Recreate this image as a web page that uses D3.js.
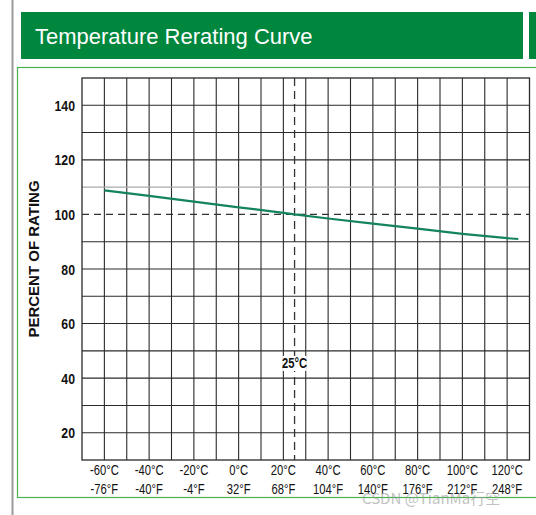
<!DOCTYPE html>
<html>
<head>
<meta charset="utf-8">
<script src="https://cdn.jsdelivr.net/npm/d3@7"></script>
<style>
  body { margin: 0; background: #fff; }
  svg { display: block; }
</style>
</head>
<body>
<script>
// curve readings, percent of rating vs ambient temperature (°C)
const tempsC = [-60, -40, -20, 0, 20, 25, 40, 60, 80, 100, 120, 125];
const percent = [108.8, 106.8, 104.7, 102.6, 100.6, 100, 98.5, 96.6, 94.8, 92.9, 91.3, 91];

const tickC = [-60, -40, -20, 0, 20, 40, 60, 80, 100, 120];
const tickF = ['-76°F', '-40°F', '-4°F', '32°F', '68°F', '104°F', '140°F', '176°F', '212°F', '248°F'];
const tickY = [20, 40, 60, 80, 100, 120, 140];

const svgWidth = 536, svgHeight = 515;
const sans = '"Liberation Sans", Arial, sans-serif';

const svg = d3.select('body').append('svg')
    .attr('width', svgWidth)
    .attr('height', svgHeight);

// no condensed face installed, so squeeze the labels sideways
function narrowText(g, px, py, sx, txt) {
    return g.append('text')
        .attr('transform', 'translate(' + px + ',' + py + ') scale(' + sx + ',1)')
        .attr('font-family', sans)
        .attr('fill', '#111')
        .text(txt);
}

// page frame bits
svg.append('line').attr('x1', 12.5).attr('x2', 12.5).attr('y1', 0).attr('y2', svgHeight)
    .attr('stroke', '#9a9a9a').attr('stroke-width', 2);
svg.append('rect').attr('x', 21).attr('y', 12).attr('width', 502).attr('height', 47).attr('fill', '#00873d');
svg.append('rect').attr('x', 529).attr('y', 12).attr('width', 20).attr('height', 47).attr('fill', '#00873d');
svg.append('rect').attr('x', 17.5).attr('y', 67.5).attr('width', 540).attr('height', 430)
    .attr('fill', 'none').attr('stroke', '#4cb050').attr('stroke-width', 1.2);

svg.append('text')
    .attr('x', 35).attr('y', 44)
    .attr('font-family', sans)
    .attr('font-size', '22px')
    .attr('fill', '#fff')
    .text('Temperature Rerating Curve');

// plot
const margin = {top: 78, left: 82, right: 6, bottom: 55};
const x = d3.scaleLinear().domain([-70, 130]).range([margin.left, svgWidth - margin.right - 0.5]);
const y = d3.scaleLinear().domain([10, 150]).range([svgHeight - margin.bottom, margin.top]);

const grid = svg.append('g');
grid.selectAll('line.v')
    .data(d3.range(-60, 130, 10))
    .enter().append('line')
    .attr('class', 'v')
    .attr('x1', d => x(d)).attr('x2', d => x(d))
    .attr('y1', y(150)).attr('y2', y(10))
    .attr('stroke', '#2a2a2a').attr('stroke-width', 1.1);
grid.selectAll('line.h')
    .data(d3.range(20, 150, 10))
    .enter().append('line')
    .attr('class', 'h')
    .attr('x1', x(-70)).attr('x2', x(130))
    .attr('y1', d => y(d)).attr('y2', d => y(d))
    .attr('stroke', d => d === 110 ? '#aaa' : (d === 100 ? 'none' : '#2a2a2a'))
    .attr('stroke-width', 1.1);
grid.append('rect')
    .attr('x', x(-70)).attr('y', y(150))
    .attr('width', x(130) - x(-70)).attr('height', y(10) - y(150))
    .attr('fill', 'none').attr('stroke', '#2a2a2a').attr('stroke-width', 1.3);

// reference lines at 100% and 25°C
svg.append('line')
    .attr('x1', x(-70)).attr('x2', x(130))
    .attr('y1', y(100)).attr('y2', y(100))
    .attr('stroke', '#333').attr('stroke-width', 1.3).attr('stroke-dasharray', '7,5');
svg.append('line')
    .attr('x1', x(25)).attr('x2', x(25))
    .attr('y1', y(150)).attr('y2', y(10))
    .attr('stroke', '#333').attr('stroke-width', 1.3).attr('stroke-dasharray', '8,5');

// 25°C tag over a white patch
svg.append('rect')
    .attr('x', x(25) - 12).attr('y', 356).attr('width', 24).attr('height', 15).attr('fill', '#fff');
narrowText(svg, x(25), 368, 0.75, '25°C')
    .attr('text-anchor', 'middle')
    .attr('font-weight', 'bold').attr('font-size', '15px');

// curve
svg.append('path')
    .datum(tempsC.map((t, i) => [t, percent[i]]))
    .attr('fill', 'none')
    .attr('stroke', '#14835f')
    .attr('stroke-width', 2.2)
    .attr('d', d3.line().x(d => x(d[0])).y(d => y(d[1])));

// y ticks
const yAxis = svg.append('g');
tickY.forEach(d => {
    narrowText(yAxis, 75, y(d) + 5.5, 0.82, d)
        .attr('text-anchor', 'end')
        .attr('font-weight', 'bold').attr('font-size', '15px');
});

svg.append('text')
    .attr('transform', 'translate(39,' + 259 + ') rotate(-90)')
    .attr('text-anchor', 'middle')
    .attr('font-family', sans)
    .attr('font-weight', 'bold').attr('font-size', '15px')
    .attr('fill', '#111')
    .text('PERCENT OF RATING');

// x ticks, two rows
const xAxis = svg.append('g');
tickC.forEach((d, i) => {
    narrowText(xAxis, x(d), 475, 0.75, d + '°C')
        .attr('text-anchor', 'middle').attr('font-size', '15px');
    narrowText(xAxis, x(d), 494, 0.75, tickF[i])
        .attr('text-anchor', 'middle').attr('font-size', '15px');
});

// watermark
svg.append('text')
    .attr('x', 362).attr('y', 504)
    .attr('font-family', '"Noto Sans CJK SC", sans-serif').attr('font-size', '15px')
    .attr('fill', '#999').attr('opacity', 0.6)
    .text('CSDN @TianMa行空');
</script>
</body>
</html>
